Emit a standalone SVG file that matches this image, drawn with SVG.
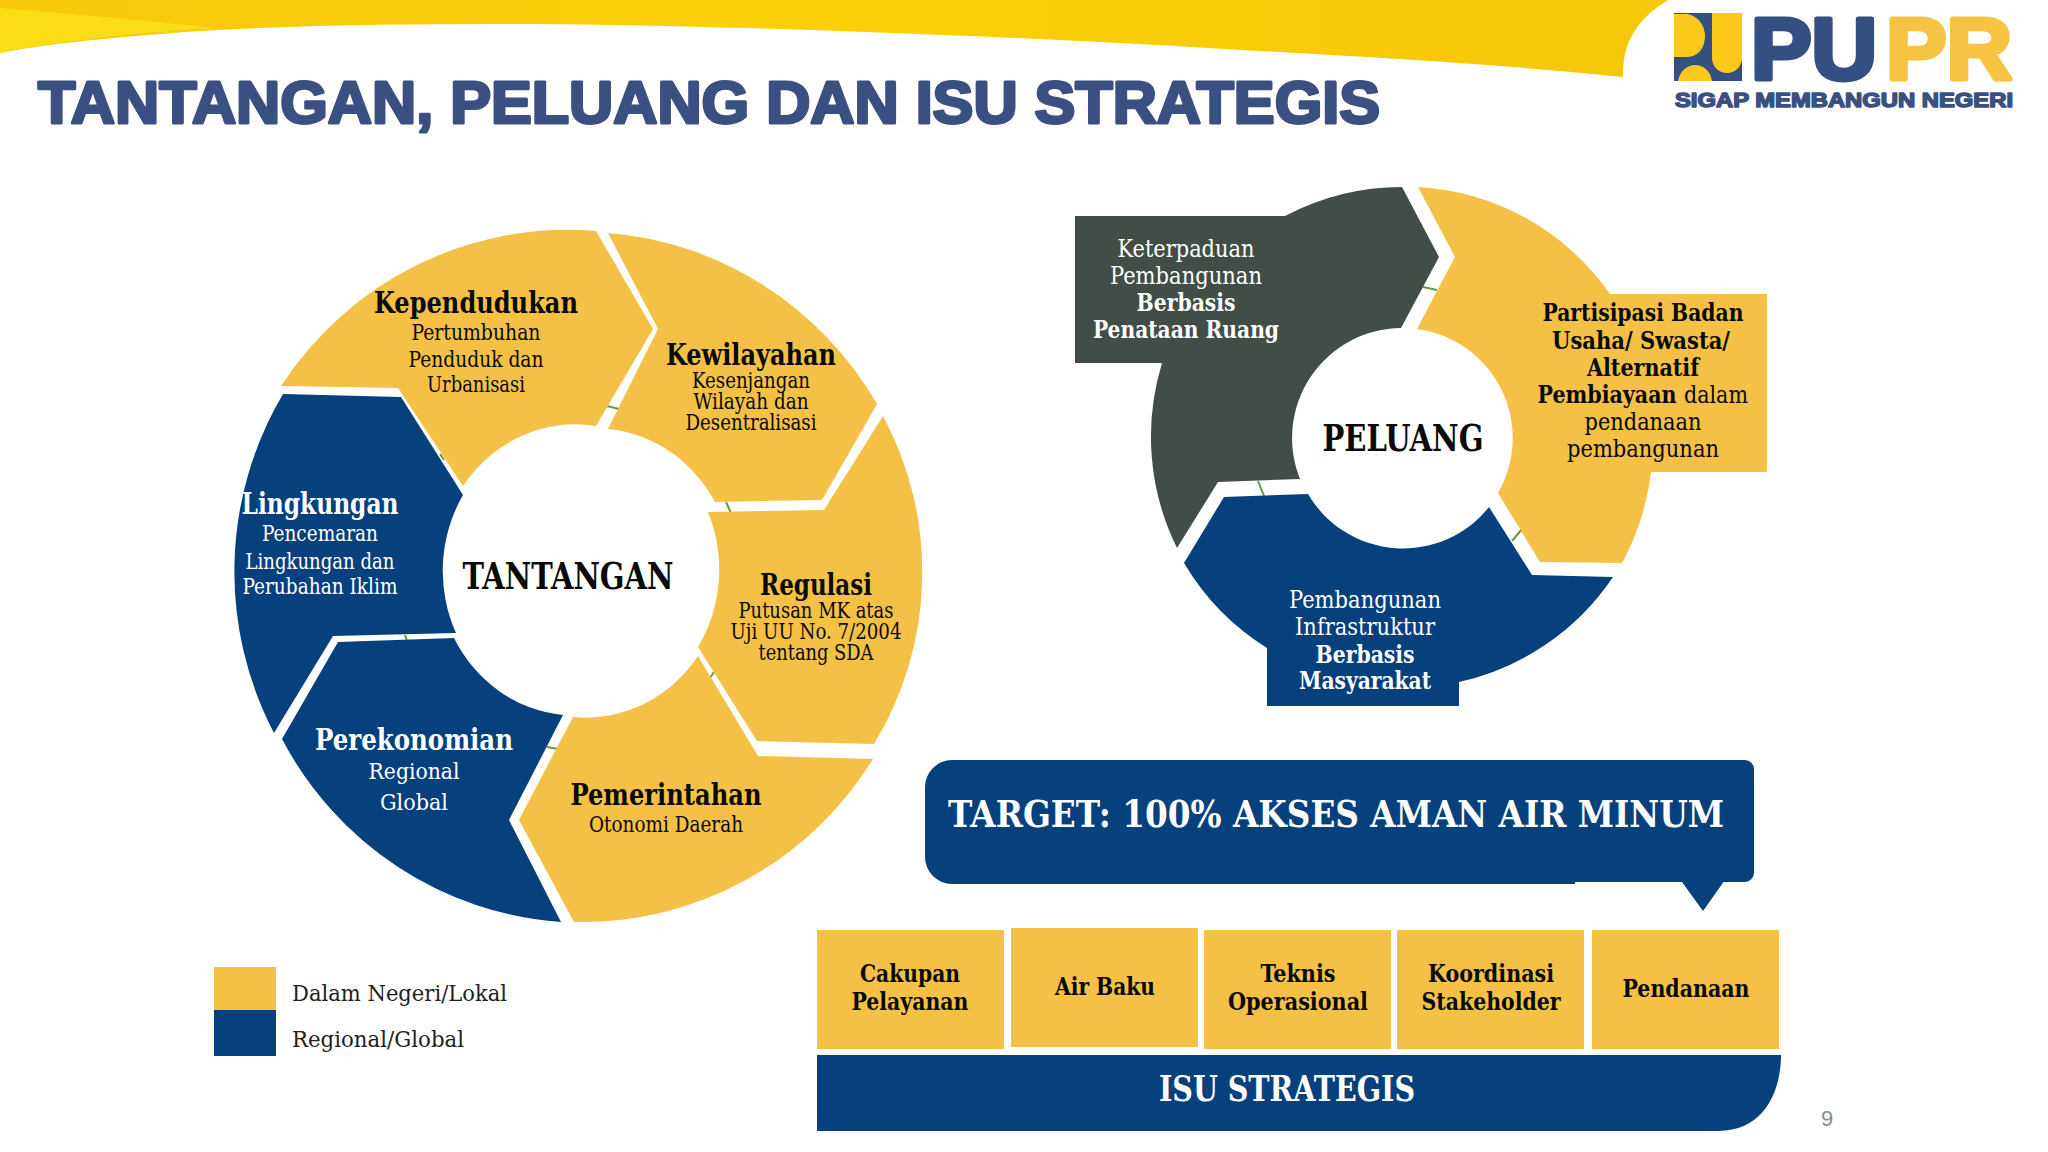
<svg xmlns="http://www.w3.org/2000/svg" width="2048" height="1152" viewBox="0 0 2048 1152">
<style>
text{font-family:"DejaVu Serif Condensed","DejaVu Serif","Liberation Serif",serif;text-anchor:middle}
.y{fill:#F4C146}.b{fill:#06407D}.d{fill:#414D46}
.k{fill:#0a0a0a}.w{fill:#fff}
.h{font-weight:700;font-size:30px}.s{font-size:23px}.m{font-size:24px}
.bm{font-size:24px;font-weight:700}
.c{font-size:37px;font-weight:700}
.sans{font-family:"Liberation Sans",Arial,sans-serif;font-weight:700;stroke-linejoin:round}
</style>
<defs><linearGradient id="g" x1="0" y1="0" x2="1" y2="0"><stop offset="0" stop-color="#F8C90C"/><stop offset=".5" stop-color="#FBD008"/><stop offset="1" stop-color="#F6C708"/></linearGradient></defs>
<rect width="2048" height="1152" fill="#fff"/>
<g id="banner"><path d="M0,0H1668C1640,17 1622,40 1623,77C1480,62 1340,56 1192,47C1000,36 700,24 500,24C400,24 300,25 200,31C100,38 40,45 0,53Z" fill="url(#g)"/>
<path d="M0,8C70,14 140,20 215,28C130,33 50,42 0,53Z" fill="#FADD14"/></g>
<g id="title"><text class="sans" x="709" y="123" font-size="60" fill="#3A5080" stroke="#3A5080" stroke-width="3" textLength="1342" lengthAdjust="spacingAndGlyphs">TANTANGAN, PELUANG DAN ISU STRATEGIS</text></g>
<g id="logo">
<rect x="1674" y="13" width="68" height="68" fill="#344F82"/>
<path d="M1674,14H1687C1700,16 1705,28 1705,36C1705,48 1698,57 1687,57H1674Z" fill="#FCC81B"/>
<path d="M1712,13H1742V60C1740,68 1735,73 1727,73C1718,73 1712,66 1712,58Z" fill="#FCC81B"/>
<path d="M1678,81C1680,70 1688,65 1695,65C1703,65 1710,70 1712,81Z" fill="#FCC81B"/>
<text class="sans" x="1814" y="78.500" font-size="87" fill="#344F82" stroke="#344F82" stroke-width="5" textLength="126" lengthAdjust="spacingAndGlyphs">PU</text>
<text class="sans" x="1949" y="78.500" font-size="87" fill="#F6C343" stroke="#F6C343" stroke-width="5" textLength="126" lengthAdjust="spacingAndGlyphs">PR</text>
<text class="sans" x="1844" y="107" font-size="20" fill="#3A5080" stroke="#3A5080" stroke-width="1.500" textLength="338" lengthAdjust="spacingAndGlyphs">SIGAP MEMBANGUN NEGERI</text>
</g>
<g id="connectors" stroke="#5FA03C" stroke-width="2" fill="none">
<path d="M607,406L619,409M726,502L731,513M714,672L710,678M547,747L558,749M405,635L407,641M440,454L444,460"/>
<path d="M1423,287L1437,290M1258,481L1264,496M1512,541L1522,529"/>
</g>
<g id="kependudukan"><path class="y" d="M281,386L398,388L463,486A137,145 0 0 1 596,426L653,329L596,231A343,346 0 0 0 281,386Z"/>
<text class="h k" x="476" y="313" textLength="204" lengthAdjust="spacingAndGlyphs">Kependudukan</text>
<text class="s k" x="476" y="340" textLength="129" lengthAdjust="spacingAndGlyphs">Pertumbuhan</text>
<text class="s k" x="476" y="367" textLength="135" lengthAdjust="spacingAndGlyphs">Penduduk dan</text>
<text class="s k" x="476" y="392" textLength="98" lengthAdjust="spacingAndGlyphs">Urbanisasi</text></g>
<g id="kewilayahan"><path class="y" d="M608,233L658,329L608,429A137,145 0 0 1 715,502L822,500L877,404A343,346 0 0 0 608,233Z"/>
<text class="h k" x="751" y="365" textLength="170" lengthAdjust="spacingAndGlyphs">Kewilayahan</text>
<text class="s k" x="751" y="388" textLength="118" lengthAdjust="spacingAndGlyphs">Kesenjangan</text>
<text class="s k" x="751" y="409" textLength="115" lengthAdjust="spacingAndGlyphs">Wilayah dan</text>
<text class="s k" x="751" y="430" textLength="131" lengthAdjust="spacingAndGlyphs">Desentralisasi</text></g>
<g id="regulasi"><path class="y" d="M883,416L824,510L708,512A137,145 0 0 1 698,647L757,741L874,744A330,330 0 0 0 883,416Z"/>
<text class="h k" x="816" y="595" textLength="112" lengthAdjust="spacingAndGlyphs">Regulasi</text>
<text class="s k" x="816" y="618" textLength="155" lengthAdjust="spacingAndGlyphs">Putusan MK atas</text>
<text class="s k" x="816" y="639" textLength="171" lengthAdjust="spacingAndGlyphs">Uji UU No. 7/2004</text>
<text class="s k" x="816" y="660" textLength="115" lengthAdjust="spacingAndGlyphs">tentang SDA</text></g>
<g id="pemerintahan"><path class="y" d="M873,759L758,756L698,656A137,145 0 0 1 573,717L519,820L574,922A343,346 0 0 0 873,759Z"/>
<text class="h k" x="666" y="805" textLength="191" lengthAdjust="spacingAndGlyphs">Pemerintahan</text>
<text class="s k" x="666" y="832" textLength="154" lengthAdjust="spacingAndGlyphs">Otonomi Daerah</text></g>
<g id="perekonomian"><path class="b" d="M563,715A137,145 0 0 1 454,638L338,642L282,739A343,346 0 0 0 561,922L509,820Z"/>
<text class="h w" x="414" y="750" textLength="198" lengthAdjust="spacingAndGlyphs">Perekonomian</text>
<text class="s w" x="414" y="779" textLength="91" lengthAdjust="spacingAndGlyphs">Regional</text>
<text class="s w" x="414" y="810" textLength="68" lengthAdjust="spacingAndGlyphs">Global</text></g>
<g id="lingkungan"><path class="b" d="M283,394L401,397L463,495A137,145 0 0 0 456,633L333,636L274,733A343,346 0 0 1 283,394Z"/>
<text class="h w" x="320" y="514" textLength="157" lengthAdjust="spacingAndGlyphs">Lingkungan</text>
<text class="s w" x="320" y="541" textLength="116" lengthAdjust="spacingAndGlyphs">Pencemaran</text>
<text class="s w" x="320" y="569" textLength="149" lengthAdjust="spacingAndGlyphs">Lingkungan dan</text>
<text class="s w" x="320" y="594" textLength="155" lengthAdjust="spacingAndGlyphs">Perubahan Iklim</text></g>
<g id="tantangan"><text class="c k" x="568" y="589" textLength="211" lengthAdjust="spacingAndGlyphs">TANTANGAN</text></g>
<g id="keterpaduan"><path class="d" d="M1075,216L1285,216A251,251 0 0 1 1402,187L1439,257L1401,328A110,110 0 0 0 1300,479L1218,482L1177,548A251,251 0 0 1 1162,363L1075,363Z"/>
<text class="m w" x="1186" y="257" textLength="137" lengthAdjust="spacingAndGlyphs">Keterpaduan</text>
<text class="m w" x="1186" y="284" textLength="152" lengthAdjust="spacingAndGlyphs">Pembangunan</text>
<text class="bm w" x="1186" y="311" textLength="99" lengthAdjust="spacingAndGlyphs">Berbasis</text>
<text class="bm w" x="1186" y="338" textLength="186" lengthAdjust="spacingAndGlyphs">Penataan Ruang</text></g>
<g id="partisipasi"><path class="y" d="M1418,187A251,251 0 0 1 1610,294L1767,294L1767,472L1651,472A251,251 0 0 1 1622,563L1540,562L1498,493A110,110 0 0 0 1417,329L1455,257Z"/>
<text class="bm k" x="1643" y="321" textLength="201" lengthAdjust="spacingAndGlyphs">Partisipasi Badan</text>
<text class="bm k" x="1641" y="349" textLength="178" lengthAdjust="spacingAndGlyphs">Usaha/ Swasta/</text>
<text class="bm k" x="1643" y="376" textLength="112" lengthAdjust="spacingAndGlyphs">Alternatif</text>
<text class="bm k" x="1607" y="403" textLength="139" lengthAdjust="spacingAndGlyphs">Pembiayaan</text>
<text class="m k" x="1716" y="403" textLength="64" lengthAdjust="spacingAndGlyphs">dalam</text>
<text class="m k" x="1643" y="430" textLength="117" lengthAdjust="spacingAndGlyphs">pendanaan</text>
<text class="m k" x="1643" y="457" textLength="152" lengthAdjust="spacingAndGlyphs">pembangunan</text></g>
<g id="infrastruktur"><path class="b" d="M1224,497L1308,494A110,110 0 0 0 1489,507L1532,575L1613,577A251,251 0 0 1 1459,682L1459,706L1267,706L1267,648A251,251 0 0 1 1184,563Z"/>
<text class="m w" x="1365" y="608" textLength="152" lengthAdjust="spacingAndGlyphs">Pembangunan</text>
<text class="m w" x="1365" y="635" textLength="140" lengthAdjust="spacingAndGlyphs">Infrastruktur</text>
<text class="bm w" x="1365" y="663" textLength="99" lengthAdjust="spacingAndGlyphs">Berbasis</text>
<text class="bm w" x="1365" y="689" textLength="132" lengthAdjust="spacingAndGlyphs">Masyarakat</text></g>
<g id="peluang"><text class="c k" x="1403" y="451" textLength="161" lengthAdjust="spacingAndGlyphs">PELUANG</text></g>
<g id="target"><path class="b" d="M952,760H1745a9,9 0 0 1 9,9V873a9,9 0 0 1 -9,9H1723.500L1703,911L1682,882L1575,882V884H952a27,27 0 0 1 -27,-27V787a27,27 0 0 1 27,-27Z"/>
<text class="w" x="1336" y="827" font-size="38" font-weight="700" textLength="776" lengthAdjust="spacingAndGlyphs">TARGET: 100% AKSES AMAN AIR MINUM</text></g>
<g id="cakupan"><rect class="y" x="817" y="930" width="187" height="119"/><text class="bm k" x="910" y="982" textLength="100" lengthAdjust="spacingAndGlyphs">Cakupan</text><text class="bm k" x="910" y="1010" textLength="117" lengthAdjust="spacingAndGlyphs">Pelayanan</text></g>
<g id="airbaku"><rect class="y" x="1011" y="928" width="187" height="119"/><text class="bm k" x="1105" y="995" textLength="100" lengthAdjust="spacingAndGlyphs">Air Baku</text></g>
<g id="teknis"><rect class="y" x="1204" y="930" width="187" height="119"/><text class="bm k" x="1298" y="982" textLength="75" lengthAdjust="spacingAndGlyphs">Teknis</text><text class="bm k" x="1298" y="1010" textLength="140" lengthAdjust="spacingAndGlyphs">Operasional</text></g>
<g id="koordinasi"><rect class="y" x="1397" y="930" width="187" height="119"/><text class="bm k" x="1491" y="982" textLength="126" lengthAdjust="spacingAndGlyphs">Koordinasi</text><text class="bm k" x="1491" y="1010" textLength="139" lengthAdjust="spacingAndGlyphs">Stakeholder</text></g>
<g id="pendanaan"><rect class="y" x="1592" y="930" width="187" height="119"/><text class="bm k" x="1686" y="997" textLength="127" lengthAdjust="spacingAndGlyphs">Pendanaan</text></g>
<g id="isu"><path class="b" d="M817,1055H1781C1781,1090 1765,1131 1718,1131H817Z"/>
<text class="w" x="1287" y="1101" font-size="35" font-weight="700" textLength="256" lengthAdjust="spacingAndGlyphs">ISU STRATEGIS</text></g>
<g id="legend"><rect class="y" x="214" y="967" width="62" height="43"/><rect class="b" x="214" y="1010" width="62" height="46"/>
<text class="s" x="399.500" y="1001" fill="#222" textLength="215" lengthAdjust="spacingAndGlyphs">Dalam Negeri/Lokal</text>
<text class="s" x="378" y="1047" fill="#222" textLength="172" lengthAdjust="spacingAndGlyphs">Regional/Global</text></g>
<g id="page"><text x="1827" y="1126" font-size="22" fill="#8a8a8a" style="font-family:'Liberation Sans',sans-serif">9</text></g>
</svg>
